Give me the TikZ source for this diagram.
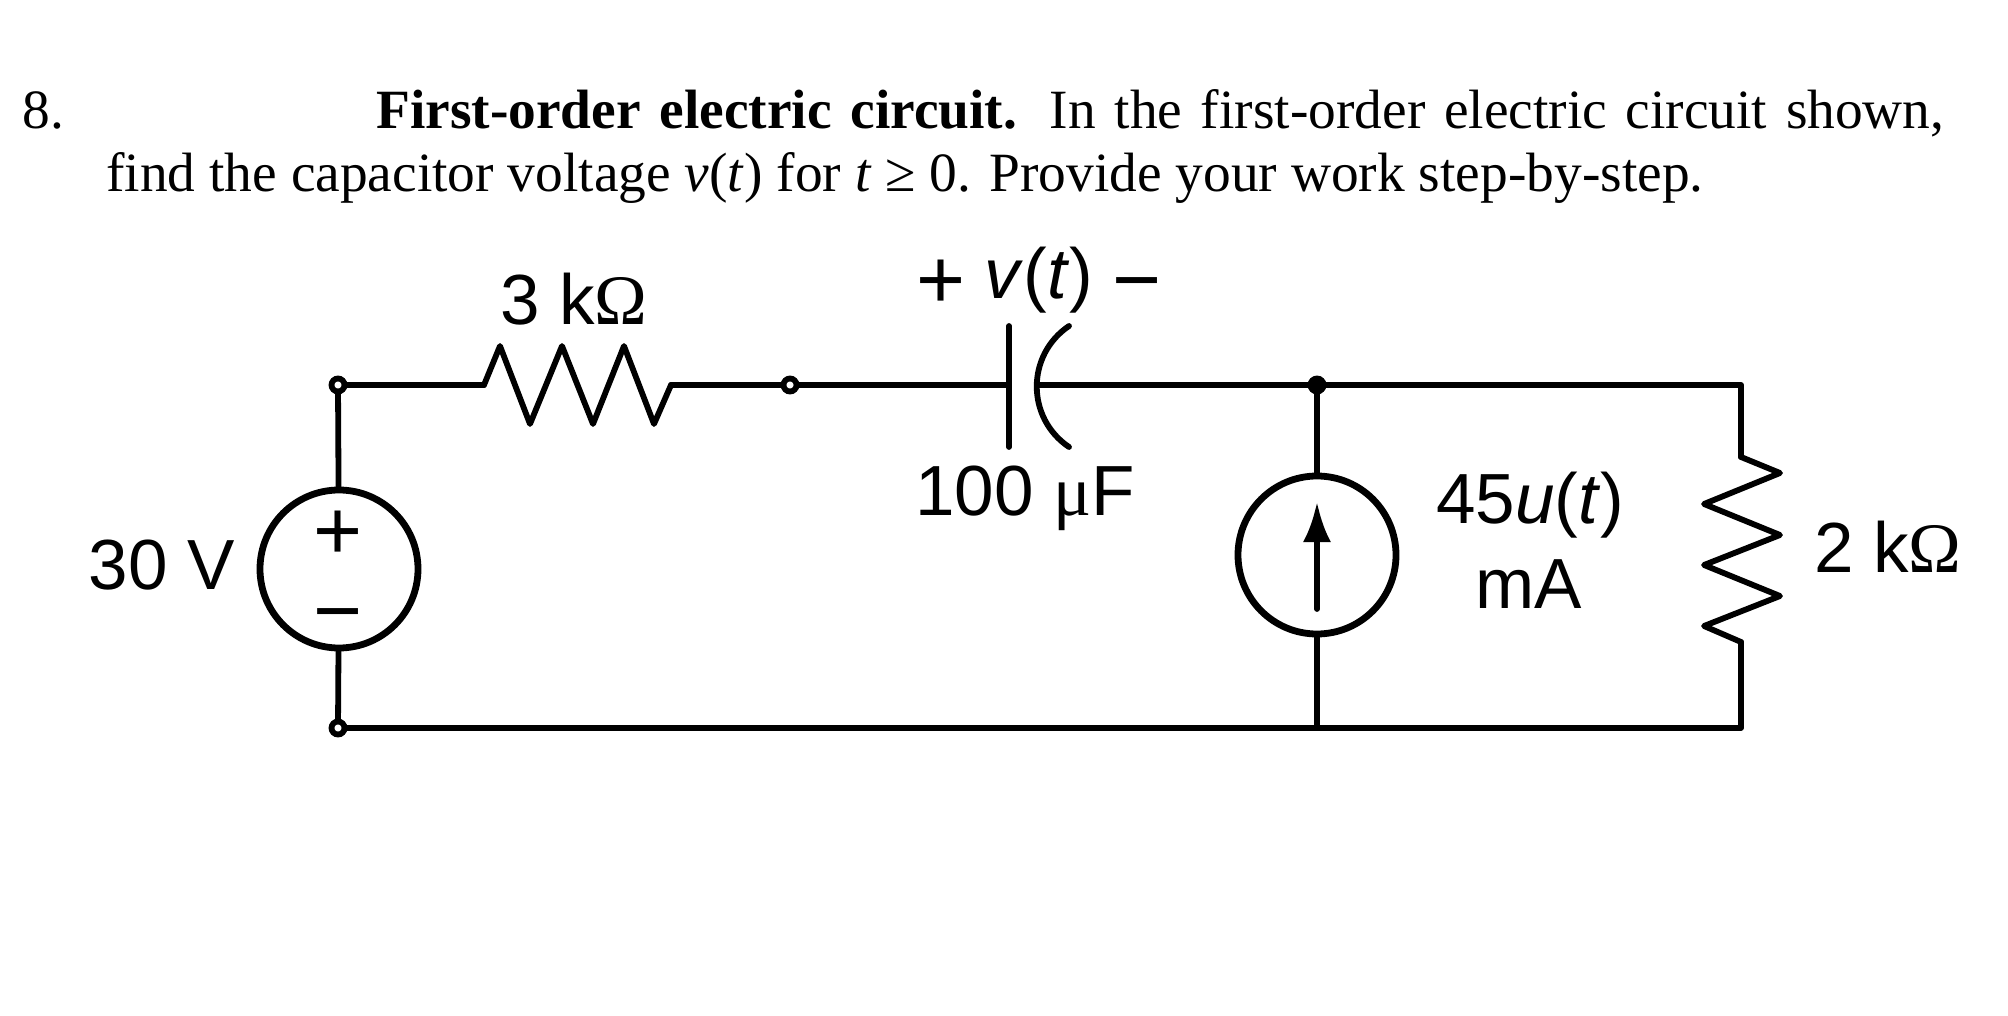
\documentclass[tikz,border=0pt]{standalone}
\usepackage{fontspec}
\setmainfont{Liberation Serif}
\setsansfont{Liberation Sans}
\newfontfamily\ohmfont{Liberation Serif}
\usetikzlibrary{arrows.meta}
\newcommand{\kohm}{k{\ohmfont\symbol{"03A9}}}
\newcommand{\micro}{{\ohmfont\symbol{"03BC}}}
\newcommand{\bigsign}[1]{{\fontsize{42}{46}\selectfont\raisebox{-5pt}{#1}}}

\begin{document}
\begin{tikzpicture}[
    x=0.5pt,
    y=-0.5pt,
    wire/.style={line width=2.9pt, line cap=round, line join=round},
    terminal/.style={draw, circle, fill=white, line width=2.9pt, minimum size=6.5pt, inner sep=0pt},
    junction/.style={terminal, fill=black},
    source/.style={draw, circle, line width=3.4pt, minimum size=79pt, inner sep=0pt},
    para/.style={anchor=base west, inner sep=0pt, font=\fontsize{27.7}{30}\selectfont},
    lbl/.style={anchor=base, inner sep=0pt, font=\sffamily\fontsize{35.5}{40}\selectfont},
    sign/.style={anchor=base, inner sep=0pt, font=\sffamily\fontsize{42}{46}\selectfont}]

    \useasboundingbox (0,0) rectangle (2008,1016);

    % Question text
    \node[para] (num) at (22,129) {8.};
    \node[para] (line1) at (376,129) {\makebox[784pt][s]{\textbf{First-order electric circuit.} In the first-order electric circuit shown,}};
    \node[para] (line2) at (106,192) {find the capacitor voltage \textit{v}(\textit{t}) for \textit{t} ≥ 0. Provide your work step-by-step.};

    % Terminals and corners
    \node[terminal] (T1) at (338,385) {};
    \node[terminal] (T2) at (790,385) {};
    \node[terminal] (T3) at (338,728) {};
    \node[junction] (J1) at (1317,385) {};
    \coordinate (J2) at (1317,728);
    \coordinate (TR) at (1741,385);
    \coordinate (BR) at (1741,728);

    % Sources
    \node[source] (VS) at (339,569) {};
    \node[source] (IS) at (1317,555) {};
    \node[sign] (plus) at (338,559) {+};
    \node[sign] (minus) at (338,639) {−};

    \coordinate (Ia) at (1317,609);
    \coordinate (Ib) at (1317,502);
    \draw[wire, -{Latex[length=20pt, width=14pt]}] (Ia) -- (Ib);

    % Left resistor
    \coordinate (Ra) at (484,385);
    \coordinate (Rb) at (671,385);
    \draw[wire] (Ra) -- ++(16,-39) -- ++(30,78) -- ++(32,-78) -- ++(31,78)
                -- ++(31,-78) -- ++(30,78) -- (Rb);

    % Right resistor
    \coordinate (Rc) at (1741,457);
    \coordinate (Rd) at (1741,642);
    \draw[wire] (Rc) -- ++(39,16) -- ++(-76,31) -- ++(76,31) -- ++(-76,30)
                -- ++(76,31) -- ++(-76,30) -- (Rd);

    % Capacitor
    \coordinate (Ca) at (1009,385);
    \coordinate (Cb) at (1037,385);
    \coordinate (Cc) at (1009,326);
    \coordinate (Cd) at (1009,447);
    \coordinate (Ce) at (1069,326);
    \coordinate (Cf) at (1069,447);
    \draw[wire] (Cc) -- (Cd);
    \draw[wire] (Ce) .. controls (1026,355) and (1026,418) .. (Cf);

    % Wires
    \draw[wire] (T1) -- (Ra);
    \draw[wire] (Rb) -- (T2);
    \draw[wire] (T2) -- (Ca);
    \draw[wire] (Cb) -- (J1);
    \draw[wire] (J1) -- (TR) -- (Rc);
    \draw[wire] (Rd) -- (BR) -- (T3);
    \draw[wire] (T1) -- (VS);
    \draw[wire] (VS) -- (T3);
    \draw[wire] (J1) -- (IS);
    \draw[wire] (IS) -- (J2);

    % Labels
    \node[lbl] (L1) at (574,324) {3 \kohm};
    \node[lbl] (L2) at (162,589) {30 V};
    \node[lbl] (L3) at (1039,299) {\bigsign{+} \textit{v}(\textit{t}) \bigsign{−}};
    \node[lbl] (L4) at (1025,515) {100 \micro F};
    \node[lbl] (L5) at (1530,523) {45\textit{u}(\textit{t})};
    \node[lbl] (L6) at (1529,608) {mA};
    \node[lbl] (L7) at (1888,572) {2 \kohm};
  \end{tikzpicture}
\end{document}
